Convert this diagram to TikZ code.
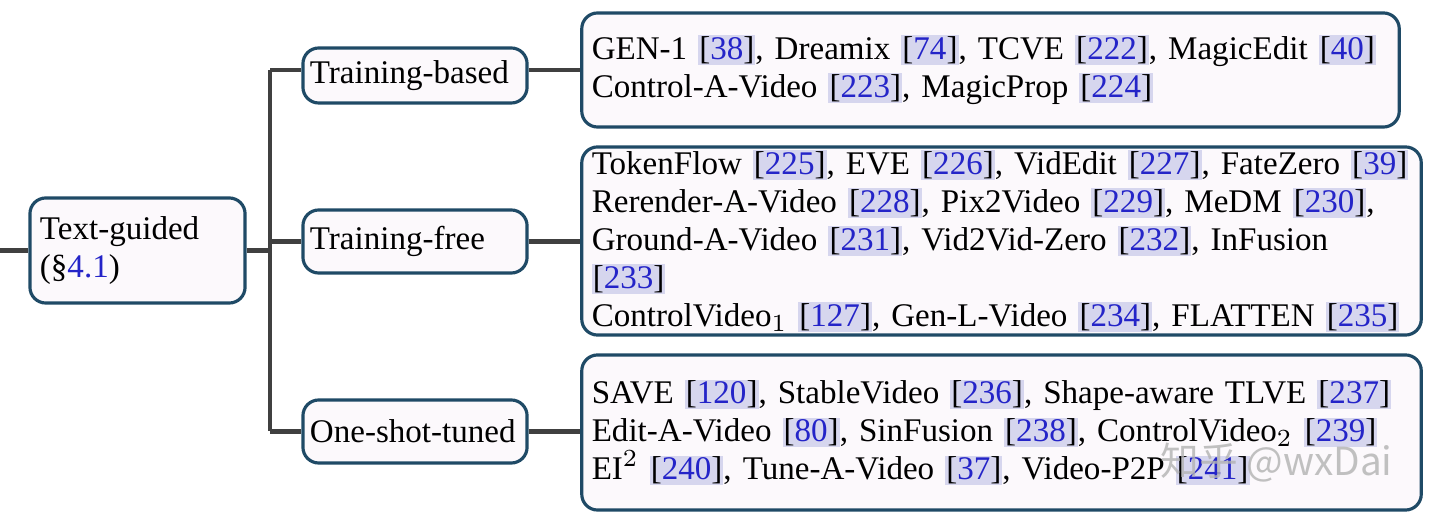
\documentclass[tikz,border=0pt]{standalone}
\usepackage{fontspec}
\setmainfont{Liberation Serif}
\newfontfamily\cjk{Noto Sans CJK SC}
\usepackage{xcolor}
\definecolor{bord}{HTML}{1F4A66}
\definecolor{boxfill}{HTML}{FCF9FC}
\definecolor{citebg}{HTML}{D6D6EE}
\definecolor{citefg}{HTML}{2424C8}
\definecolor{lin}{HTML}{404040}
\newcommand\rf[1]{{\setlength{\fboxsep}{0.3pt}\colorbox{citebg}{[\textcolor{citefg}{#1}]}}}
\begin{document}
\begin{tikzpicture}[x=0.01cm,y=-0.01cm,
  bx/.style={draw=bord,line width=0.9pt,fill=boxfill,rounded corners=4.5pt,inner xsep=0.1cm,inner ysep=0pt,align=left,font=\fontsize{9.4}{10.8}\selectfont},
  ln/.style={draw=lin,line width=1.15pt}]
\useasboundingbox (0,0) rectangle (1440,522);
\node[bx,minimum width=2.15cm,minimum height=1.05cm,text width=1.95cm] (tg) at (137.5,250.5) {Text-guided\\(§\textcolor{citefg}{4.1})};
\node[bx,minimum width=2.24cm,minimum height=0.55cm,text width=2.1cm,inner xsep=0.07cm] (tb) at (415,75.5) {Training-based};
\node[bx,minimum width=2.24cm,minimum height=0.63cm,text width=2.1cm,inner xsep=0.07cm] (tf) at (415,241.5) {Training-free};
\node[bx,minimum width=2.24cm,minimum height=0.63cm,text width=2.1cm,inner xsep=0.07cm] (os) at (415,431.5) {One-shot-tuned};
\node[bx,minimum width=8.15cm,minimum height=1.14cm,text width=7.97cm] (r1) at (990.5,70) {GEN-1 \rf{38}, Dreamix \rf{74}, TCVE \rf{222}, MagicEdit \rf{40}\\Control-A-Video \rf{223}, MagicProp \rf{224}};
\node[bx,minimum width=8.37cm,minimum height=1.88cm,text width=8.19cm] (r2) at (1001.5,241) {TokenFlow \rf{225}, EVE \rf{226}, VidEdit \rf{227}, FateZero \rf{39}\\Rerender-A-Video \rf{228}, Pix2Video \rf{229}, MeDM \rf{230},\\Ground-A-Video \rf{231}, Vid2Vid-Zero \rf{232}, InFusion \rf{233}\\ControlVideo$_1$ \rf{127}, Gen-L-Video \rf{234}, FLATTEN \rf{235}};
\node[bx,minimum width=8.37cm,minimum height=1.55cm,text width=8.19cm] (r3) at (1001.5,432.5) {SAVE \rf{120}, StableVideo \rf{236}, Shape-aware TLVE \rf{237}\\Edit-A-Video \rf{80}, SinFusion \rf{238}, ControlVideo$_2$ \rf{239}\\EI$^2$ \rf{240}, Tune-A-Video \rf{37}, Video-P2P \rf{241}};
\coordinate (s) at (0,250.5);
\coordinate (j) at (270,250.5);
\coordinate (jt) at (270,70);
\coordinate (jb) at (270,431.5);
\draw[ln] (s) -- (tg.west);
\draw[ln] (tg.east) -- (j);
\draw[ln] (jt) -- (jb);
\draw[ln] (jt) -- (tb.west |- jt);
\draw[ln] (j |- tf.west) -- (tf.west);
\draw[ln] (jb) -- (os.west);
\draw[ln] (tb.east |- r1.west) -- (r1.west);
\draw[ln] (tf.east) -- (r2.west |- tf.east);
\draw[ln] (os.east) -- (r3.west |- os.east);
\node[text=gray!60,opacity=0.8,font=\cjk\fontsize{11}{12}\selectfont,anchor=east] (wm) at (1405,463) {知乎 @wxDai};
\end{tikzpicture}
\end{document}
